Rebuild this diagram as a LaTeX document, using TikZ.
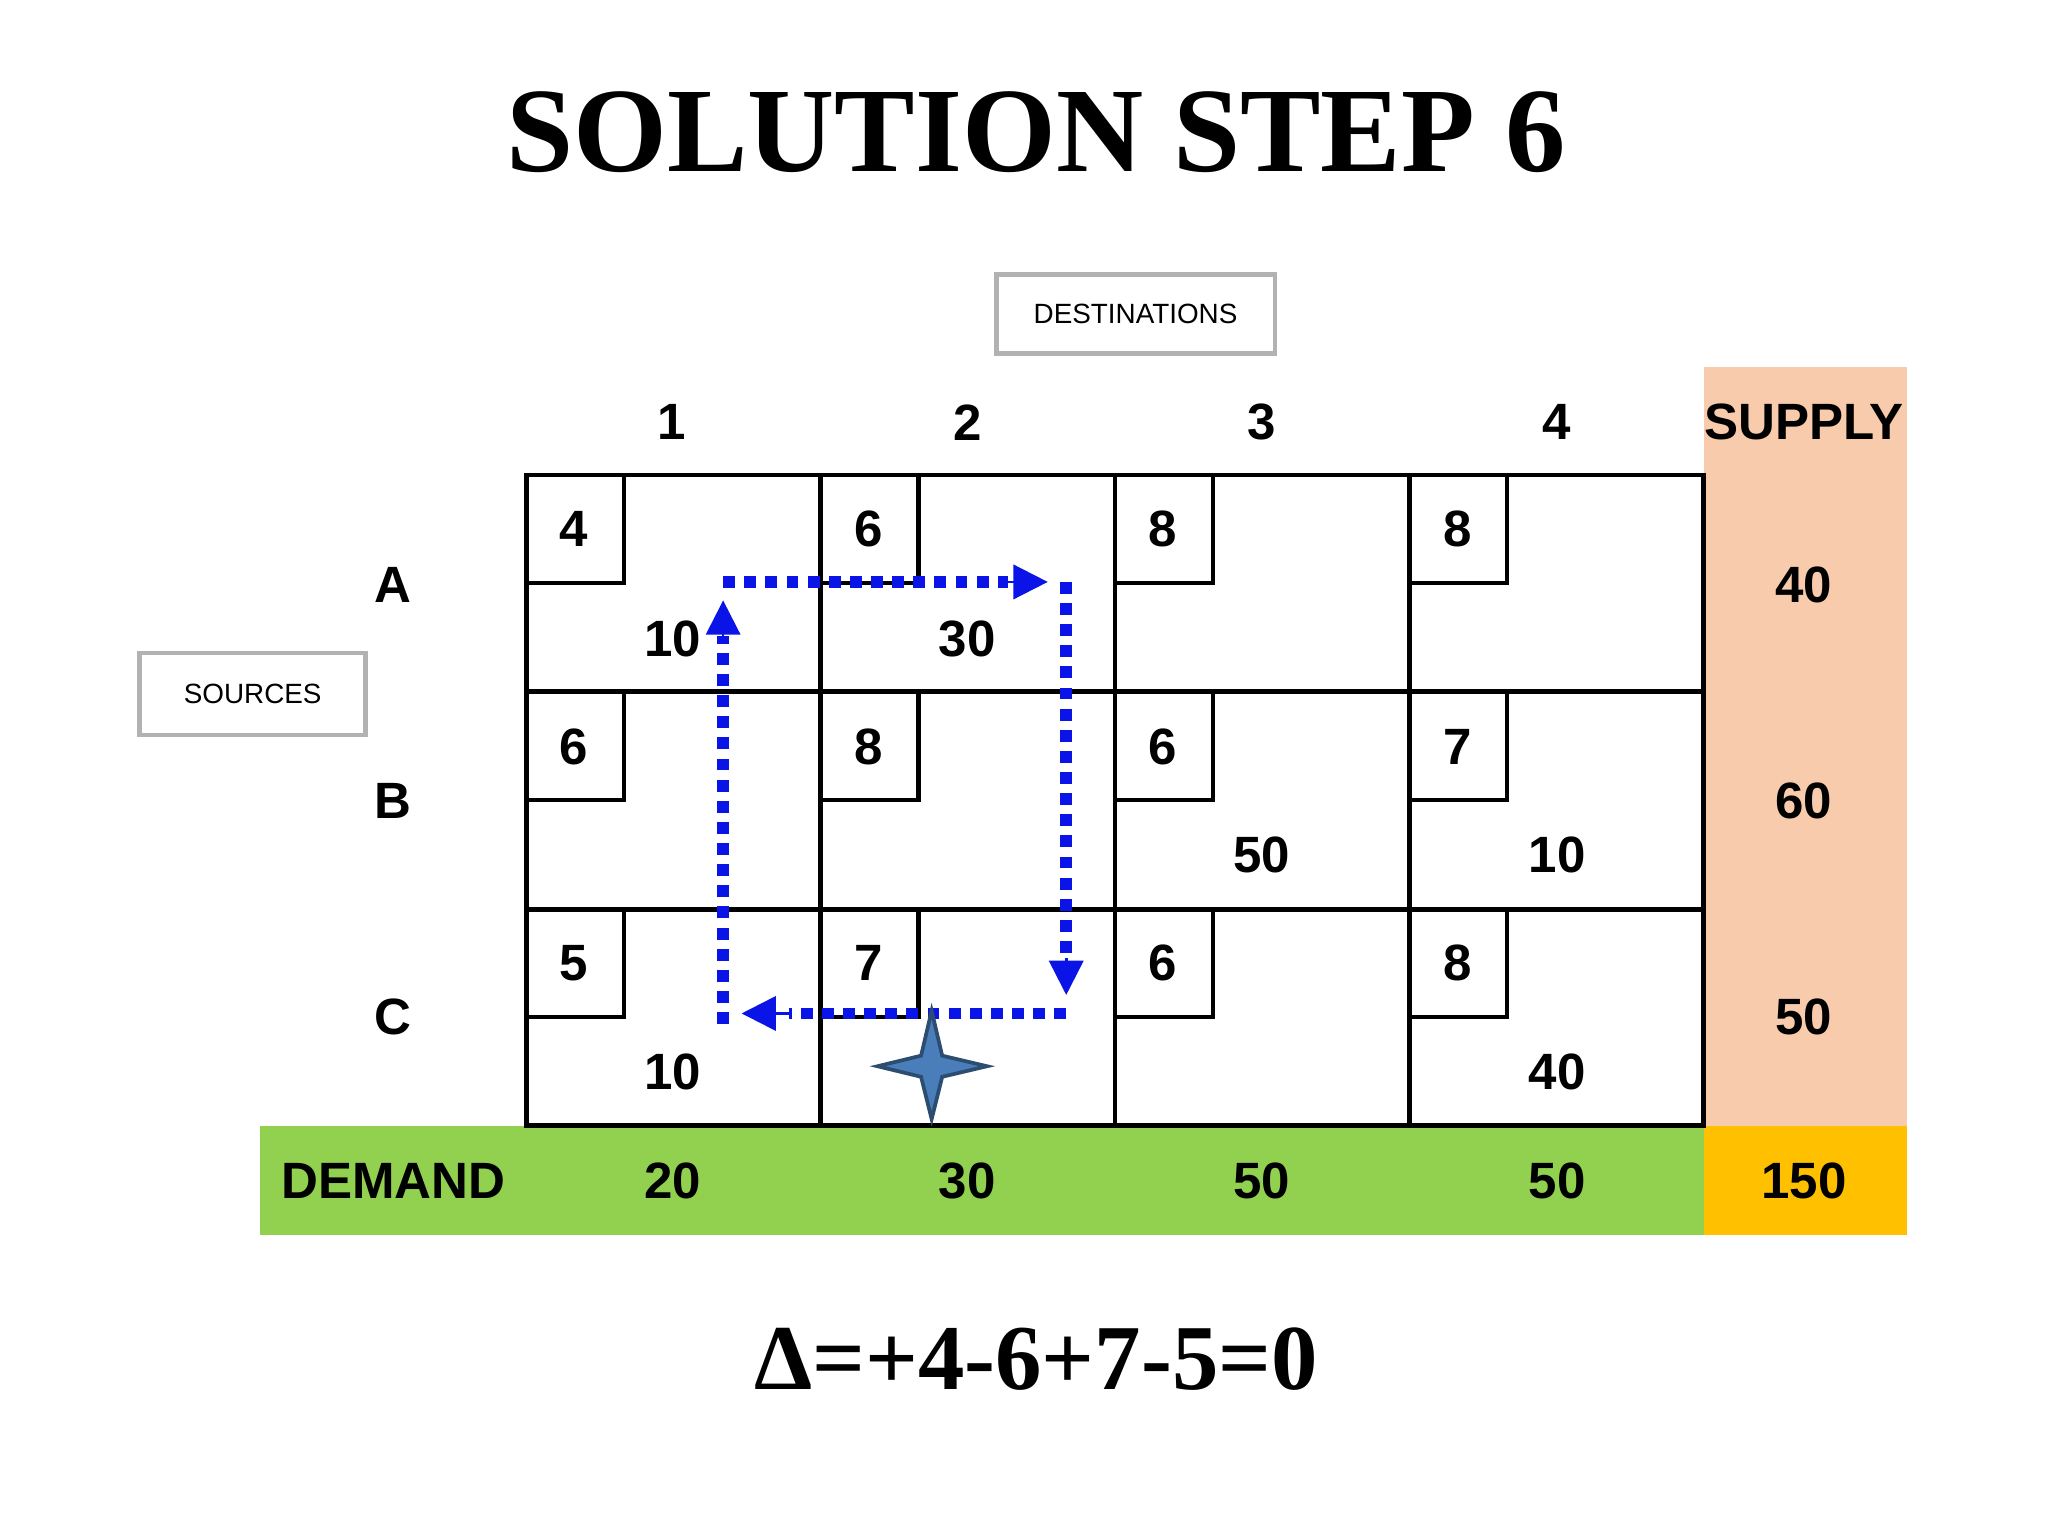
\documentclass[tikz,border=0pt]{standalone}
\usepackage{fontspec}
\setmainfont{Liberation Sans}
\newfontfamily\titlefont{Liberation Serif}
\usetikzlibrary{arrows.meta}
\definecolor{peach}{HTML}{F8CBAD}
\definecolor{dgreen}{HTML}{92D050}
\definecolor{gold}{HTML}{FFC000}
\definecolor{pathblue}{HTML}{0A14E6}
\definecolor{starblue}{HTML}{4A7EBB}
\tikzset{
  num/.style={font=\bfseries\fontsize{11}{11}\selectfont, inner sep=0pt},
  lbl/.style={draw=black!30, line width=1pt, fill=white, font=\fontsize{6}{7}\selectfont, inner sep=0pt},
  costbox/.style={draw=black, line width=0.9pt},
  loop/.style={pathblue, line width=0.09cm, dash pattern=on 0.09cm off 0.07cm},
  tip/.style={pathblue, line width=0.02cm, -{Triangle[length=0.26cm,width=0.26cm]}}
}
\begin{document}
\begin{tikzpicture}[x=0.01cm,y=-0.01cm]
\useasboundingbox (0,0) rectangle (1552,1164);
% title
\node[font=\titlefont\bfseries\fontsize{26}{26}\selectfont] (title) at (785,100) {SOLUTION STEP 6};
\node[font=\titlefont\bfseries\fontsize{20}{20}\selectfont] (eq) at (785,1030) {Δ=+4-6+7-5=0};
% labels
\node[lbl, minimum width=2.11cm, minimum height=0.6cm] (dest) at (860.5,238) {DESTINATIONS};
\node[lbl, minimum width=1.71cm, minimum height=0.62cm] (src) at (191.5,526) {SOURCES};
% colored areas
\fill[peach] (1291,278) rectangle (1445,853);
\fill[dgreen] (197,853) rectangle (1291,936);
\fill[gold] (1291,853) rectangle (1445,936);
% grid
\foreach \y in {360,524,689}{
  \foreach \x in {399,622,845,1068}{
    \draw[costbox] (\x,\y) rectangle ++(74,82);
  }
}
\draw[line width=1pt] (399,360) rectangle (1291,853);
\foreach \x in {622,845,1068} \draw[line width=1pt] (\x,360) -- (\x,853);
\foreach \y in {524,689} \draw[line width=1pt] (399,\y) -- (1291,\y);
% headers
\node[num] (h1) at (509,320) {1};
\node[num] (h2) at (733,320) {2};
\node[num] (h3) at (956,320) {3};
\node[num] (h4) at (1180,320) {4};
\node[num] (hs) at (1367,320) {SUPPLY};
\node[num] (rA) at (298,443) {A};
\node[num] (rB) at (298,607) {B};
\node[num] (rC) at (298,771) {C};
% costs
\foreach \x/\y/\t in {435/401/4,658/401/6,881/401/8,1105/401/8,
  435/566/6,658/566/8,881/566/6,1105/566/7,
  435/730/5,658/730/7,881/730/6,1105/730/8}
  \node[num] at (\x,\y) {\t};
% allocations
\node[num] (a1) at (510,484) {10};
\node[num] (a2) at (733,484) {30};
\node[num] (b3) at (956,648) {50};
\node[num] (b4) at (1180,648) {10};
\node[num] (c1) at (510,812) {10};
\node[num] (c4) at (1180,812) {40};
% supply / demand
\node[num] (s1) at (1367,443) {40};
\node[num] (s2) at (1367,607) {60};
\node[num] (s3) at (1367,771) {50};
\node[num] (dl) at (298,895) {DEMAND};
\node[num] (d1) at (510,895) {20};
\node[num] (d2) at (733,895) {30};
\node[num] (d3) at (956,895) {50};
\node[num] (d4) at (1180,895) {50};
\node[num] (tot) at (1367,895) {150};
% loop
\coordinate (p1) at (548,776);
\coordinate (p2) at (548,441);
\coordinate (p3) at (808,441);
\coordinate (p4) at (808,768);
\draw[loop] (p1) -- (548,482);
\draw[tip] (548,484) -- (548,455);
\draw[loop] (p2) -- (764,441);
\draw[tip] (764,441) -- (794,441);
\draw[loop] (p3) -- (808,726);
\draw[tip] (808,726) -- (808,754);
\draw[loop] (p4) -- (598,768);
\draw[tip] (598,768) -- (562,768);
% star
\draw[fill=starblue, draw=starblue!60!black, line width=0.8pt]
  (706,766) -- (714,800) -- (748,808) -- (714,816) -- (706,848) -- (698,816) -- (665,808) -- (698,800) -- cycle;
\end{tikzpicture}
\end{document}
